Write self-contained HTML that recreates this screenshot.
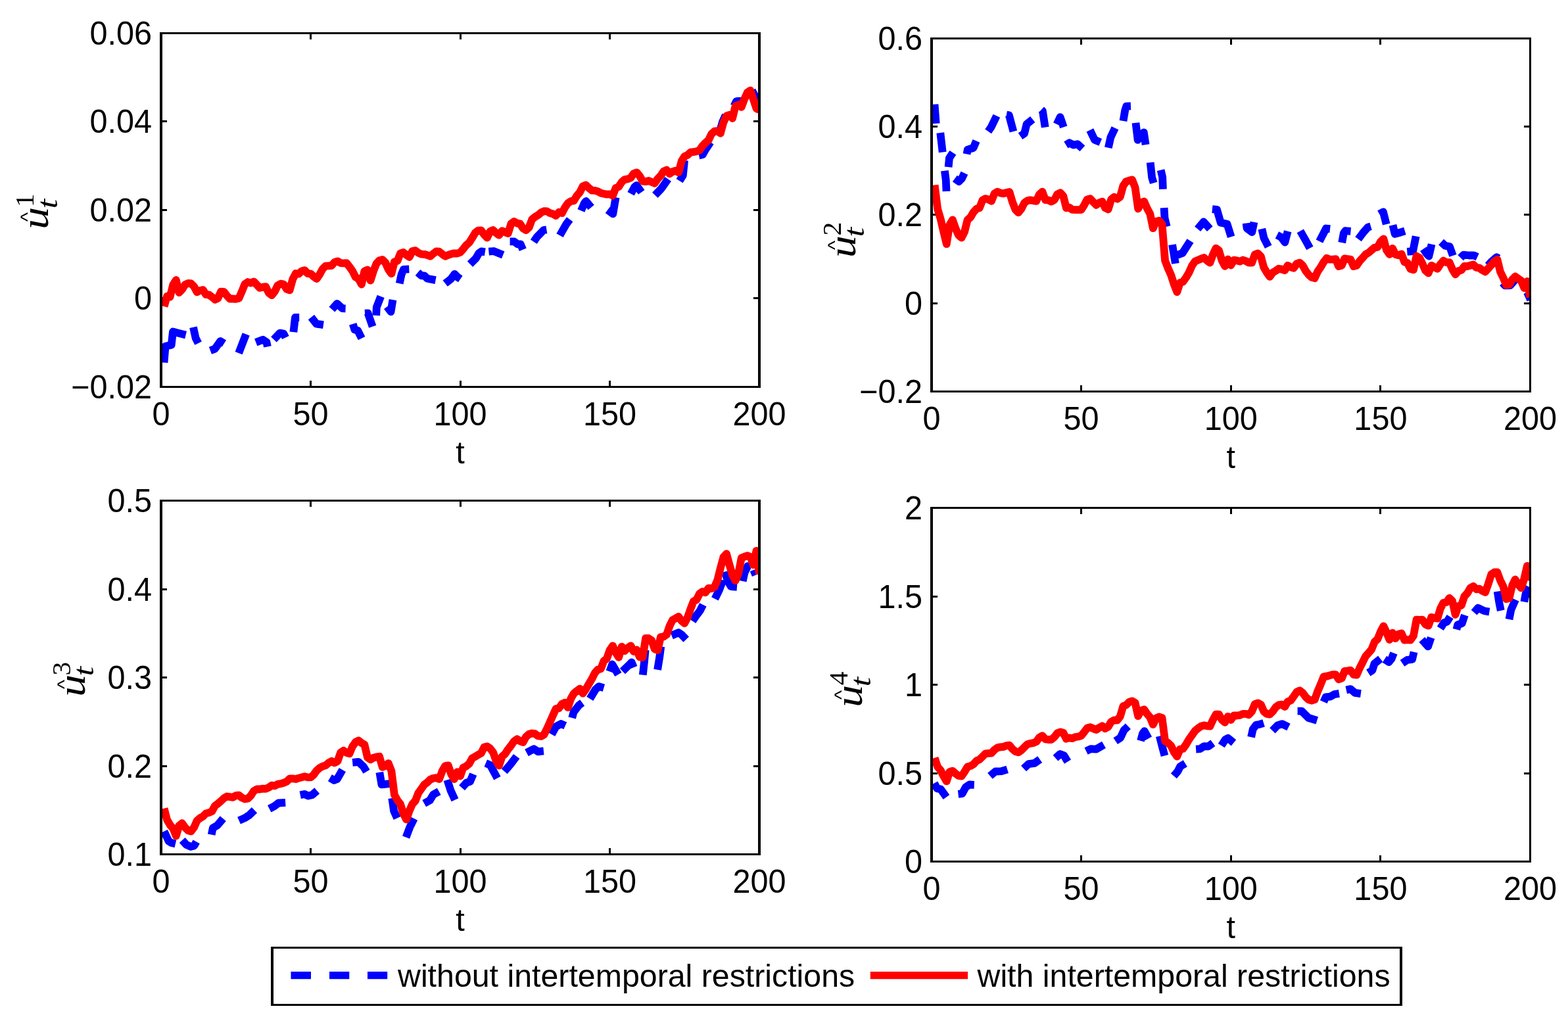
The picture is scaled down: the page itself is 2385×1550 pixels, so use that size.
<!DOCTYPE html>
<html lang="en"><head><meta charset="utf-8"><title>Estimated u-hat paths with and without intertemporal restrictions</title>
<style>
html,body{margin:0;padding:0;background:#fff;}
body{width:2385px;height:1550px;overflow:hidden;}
svg{display:block;}
.ax{fill:none;stroke:#000;stroke-width:3.4;stroke-linejoin:miter;shape-rendering:crispEdges;}
.tk{stroke:#000;stroke-width:3.0;fill:none;shape-rendering:crispEdges;}
.lb{font-family:"Liberation Sans",sans-serif;font-size:48.6px;fill:#000;}
.lg{font-family:"Liberation Sans",sans-serif;font-size:48.3px;fill:#000;}
.mi{font-family:"Liberation Serif",serif;font-style:italic;fill:#000;}
.mr{font-family:"Liberation Serif",serif;fill:#000;}
.mh{font-family:"Liberation Sans",sans-serif;fill:#000;}
.r{fill:none;stroke:#f00;stroke-width:11.8;stroke-linejoin:round;stroke-linecap:butt;}
.b{fill:none;stroke:#00f;stroke-width:11.8;stroke-linejoin:round;stroke-linecap:butt;}
</style></head><body>
<svg width="2385" height="1550" viewBox="0 0 2385 1550" role="img" aria-label="Four line charts comparing estimates with and without intertemporal restrictions">
<rect x="0" y="0" width="2385" height="1550" fill="#fff"/>
<g id="axes1">
<path class="tk" d="M472.5 588.3V579M472.5 50.5V59.8M700 588.3V579M700 50.5V59.8M927.5 588.3V579M927.5 50.5V59.8M245 184.9H254.3M1155 184.9H1145.7M245 319.4H254.3M1155 319.4H1145.7M245 453.8H254.3M1155 453.8H1145.7"/>
<clipPath id="clip1"><rect x="245" y="50.5" width="910" height="537.8"/></clipPath>
<g clip-path="url(#clip1)">
<polyline class="b" points="249.5,551.6 251.6,526.7 260.7,524.7 263,504.5 271,506.6 282.6,509.4"/>
<polyline class="b" points="294,497.8 297.6,514.3 301.6,522.1"/>
<polyline class="b" points="319.9,533.2 326.9,530.6 335.2,519 340.9,522.6"/>
<polyline class="b" points="363.1,537.1 374.2,508.3"/>
<polyline class="b" points="389.2,520.8 399.8,516.7 405.5,520.5 406.9,527.4"/>
<polyline class="b" points="416.4,516.4 425.7,506.6 431.4,507.6 434.3,513.5"/>
<polyline class="b" points="446.4,505.1 449,482.8 455.2,482.8"/>
<polyline class="b" points="473.4,482.5 481.3,492.6 491.9,494.1"/>
<polyline class="b" points="504.9,470.6 512.8,461.8 520.8,469.1 525.6,469.3"/>
<polyline class="b" points="536.7,492.8 539.5,501.6 544.1,502.7 550.1,514.6"/>
<polyline class="b" points="555,476.7 559.6,476.4 566.7,496.7"/>
<polyline class="b" points="572.2,479.9 572.8,467.4 579.2,450.9"/>
<polyline class="b" points="588.7,466.5 594.5,474.2 597.5,456"/>
<polyline class="b" points="607.7,431.2 610.6,417.6 613.9,409.8 622.3,409.4"/>
<polyline class="b" points="635.5,414.6 641,419.3 645.6,419.3 650.1,423.8 662.6,426.1"/>
<polyline class="b" points="677.2,431.2 685.6,424.7 691.5,416.9 696,421.5 700.3,424.4"/>
<polyline class="b" points="714.9,401.7 723.8,393 728.3,385.3 732.2,382.4 737.8,383.3"/>
<polyline class="b" points="743.4,382.7 750.9,382 765.2,387.8"/>
<polyline class="b" points="775.6,367.4 782,367.4 787.2,371.3 791.7,371.3 795.3,379.7"/>
<polyline class="b" points="811.8,367.7 816.3,360.9 826.9,350 831.4,349.3"/>
<polyline class="b" points="851.5,358.1 860.9,341.6 866.7,333.8"/>
<polyline class="b" points="883.9,320.5 888.7,309.2 891.3,306 899.2,315.6"/>
<polyline class="b" points="924.3,319.3 932.3,325.4 936.6,300.2"/>
<polyline class="b" points="959.6,294.7 965,284.7 968.2,281.8 975.7,292.4"/>
<polyline class="b" points="996.3,296.9 1005.7,287.2 1016.1,272.4"/>
<polyline class="b" points="1033.6,275.2 1038.8,266.9 1040.6,249.3 1040.9,244.1"/>
<polyline class="b" points="1063.1,236.4 1068.8,235.3 1072.4,228.6 1080.7,216.2"/>
<polyline class="b" points="1094.7,200.7 1099.1,185.2 1103.7,175.3"/>
<polyline class="b" points="1116.4,161.4 1120,154.1 1124.7,153.6 1128.3,154.1 1129.3,149.5"/>
<polyline class="b" points="1143.8,137.6 1150,149 1155,155.7"/>
<polyline class="r" points="249.6,466.2 254.1,450.7 258.6,451.7 263.2,433.1 267.8,425.9 272.3,445 276.9,440.3 281.4,433.1 285.9,431 290.5,431.2 295.1,435.7 299.6,444.3 304.1,441.9 308.7,440.9 313.2,448.1 317.8,448.4 322.4,451.7 326.9,455.7 331.4,453.8 336,443.7 340.6,444 345.1,449.7 349.6,454.5 354.2,454.5 358.8,454.8 363.3,453.8 367.9,443.4 372.4,432.1 376.9,429 381.5,430.5 386.1,428.4 390.6,433.1 395.1,437.8 399.7,436.7 404.2,436.2 408.8,445.5 413.4,449.1 417.9,443.4 422.4,434.1 427,431.6 431.6,432.6 436.1,439.8 440.6,441.4 445.2,424.8 449.8,416 454.3,416.6 458.9,412.4 463.4,411.1 467.9,416 472.5,416.3 477.1,420.8 481.6,424.1 486.1,417.6 490.7,409.2 495.2,404.7 499.8,404.4 504.4,404 508.9,398.8 513.5,397.3 518,400.1 522.5,400.4 527.1,400.1 531.6,405.9 536.2,412.4 540.8,421.5 545.3,424.1 549.9,432.5 554.4,412.4 559,410.5 563.5,426.6 568,412.4 572.6,400.8 577.1,396.2 581.7,395 586.2,399.5 590.8,409.8 595.4,416.3 599.9,398.2 604.5,396.9 609,385.3 613.5,384 618.1,387.8 622.6,391.1 627.2,382 631.8,381.1 636.3,384.6 640.9,386.6 645.4,386.8 650,388.1 654.5,389.8 659,385.9 663.6,382.4 668.1,382.7 672.7,386.6 677.2,389.8 681.8,387.8 686.4,386.3 690.9,385.3 695.5,385.5 700,384 704.5,378.8 709.1,373 713.6,369.1 718.2,362 722.8,354.2 727.3,350.6 731.9,350.3 736.4,356.8 741,361.6 745.5,351.9 750,350 754.6,354.5 759.1,357.7 763.7,351.2 768.2,353.2 772.8,355.1 777.4,340.3 781.9,337 786.5,339.6 791,340.3 795.5,347.4 800.1,350 804.6,346.1 809.2,333.8 813.8,329.9 818.3,327.3 822.9,323.4 827.4,321.2 832,321.5 836.5,324.1 841,325.4 845.6,328 850.1,322.8 854.7,324.1 859.2,315.7 863.8,309.2 868.4,306 872.9,305.3 877.5,297.6 882,292.4 886.5,283.4 891.1,281.4 895.6,285.9 900.2,289.6 904.8,289.8 909.3,291.1 913.9,293.7 918.4,294.7 923,295.6 927.5,295.3 932,297.6 936.6,285.9 941.1,284 945.7,276.9 950.2,273 954.8,272.4 959.4,270.4 963.9,264 968.5,262.4 973,267.8 977.5,275.6 982.1,276.2 986.6,275 991.2,276.9 995.8,278.8 1000.3,272.1 1004.9,267.4 1009.4,260.7 1014,258.6 1018.5,264.3 1023,261.2 1027.6,259.7 1032.2,262.2 1036.7,245.2 1041.2,237.9 1045.8,235.9 1050.3,231.7 1054.9,231.2 1059.5,230.2 1064,228.6 1068.5,221.9 1073.1,217.2 1077.7,213.1 1082.2,203.8 1086.8,199.7 1091.3,199.1 1095.8,202.8 1100.4,186.2 1105,176.4 1109.5,174.8 1114,180 1118.6,161.4 1123.2,159.3 1127.7,162.9 1132.2,151 1136.8,140.7 1141.3,137.6 1145.9,151 1150.5,165 1155,167.4"/>
</g>
<rect class="ax" x="245" y="50.5" width="910" height="537.8"/>
<text class="lb" text-anchor="end" transform="translate(231 68) scale(1 1.03)">0.06</text>
<text class="lb" text-anchor="end" transform="translate(231 202.4) scale(1 1.03)">0.04</text>
<text class="lb" text-anchor="end" transform="translate(231 336.9) scale(1 1.03)">0.02</text>
<text class="lb" text-anchor="end" transform="translate(231 471.3) scale(1 1.03)">0</text>
<text class="lb" text-anchor="end" transform="translate(231 605.8) scale(1 1.03)">−0.02</text>
<text class="lb" text-anchor="middle" transform="translate(245 646.9) scale(1 1.03)">0</text>
<text class="lb" text-anchor="middle" transform="translate(472.5 646.9) scale(1 1.03)">50</text>
<text class="lb" text-anchor="middle" transform="translate(700 646.9) scale(1 1.03)">100</text>
<text class="lb" text-anchor="middle" transform="translate(927.5 646.9) scale(1 1.03)">150</text>
<text class="lb" text-anchor="middle" transform="translate(1155 646.9) scale(1 1.03)">200</text>
<text class="lb" text-anchor="middle" x="700" y="704.8">t</text>
<g transform="translate(73.2 346) rotate(-90)">
<text class="mi" font-size="62" transform="translate(-3.1 0) scale(1.1 0.95)">u</text>
<text class="mh" font-size="30" transform="translate(8.8 -21.3) scale(1.03 1.0)">^</text>
<text class="mr" font-size="41.5" transform="translate(30.7 -22.2) scale(1.0 0.985)">1</text>
<text class="mi" font-size="42" transform="translate(28.5 13.3) scale(1.25 1.05)">t</text>
</g>
</g>
<g id="axes2">
<path class="tk" d="M1644.6 595.5V586.2M1644.6 58.2V67.5M1872.2 595.5V586.2M1872.2 58.2V67.5M2099.9 595.5V586.2M2099.9 58.2V67.5M1417 192.5H1426.3M2327.5 192.5H2318.2M1417 326.9H1426.3M2327.5 326.9H2318.2M1417 461.2H1426.3M2327.5 461.2H2318.2"/>
<clipPath id="clip2"><rect x="1417" y="58.2" width="910.5" height="537.3"/></clipPath>
<g clip-path="url(#clip2)">
<polyline class="b" points="1421.5,158.7 1423.7,187.9"/>
<polyline class="b" points="1430.3,202 1433.7,231.5"/>
<polyline class="b" points="1436.9,259.7 1438.7,273.5 1439.5,291"/>
<polyline class="b" points="1442.6,254.1 1443.9,240.6 1449.4,232.2"/>
<polyline class="b" points="1452.4,271.6 1458.5,276.1 1463,271.6 1466.9,263.2"/>
<polyline class="b" points="1470.5,234.4 1471.8,227.6 1480.5,225 1485,214.4"/>
<polyline class="b" points="1503.1,199.8 1507.6,193.4 1515.9,176.2"/>
<polyline class="b" points="1530.9,174.6 1534.8,175.3 1541.4,200.1"/>
<polyline class="b" points="1552,207.2 1558.1,203.1 1561.6,188.8 1570.7,181.5"/>
<polyline class="b" points="1583.9,166.9 1585.9,168.8 1589.7,193.6"/>
<polyline class="b" points="1607.5,189.1 1612.6,178.1 1617.8,193.4"/>
<polyline class="b" points="1621.4,220.5 1626.6,217.3 1632.7,220.5 1638.9,219.2 1646.4,225.9"/>
<polyline class="b" points="1657.9,197.9 1665,212.8 1673.8,216.4"/>
<polyline class="b" points="1685.8,224.7 1689.3,209.1 1696,194.7"/>
<polyline class="b" points="1708.5,184.1 1711.3,167.5 1713.3,161.7 1720,161.4"/>
<polyline class="b" points="1727.5,186.9 1730.6,212.8 1734.6,206.3 1739.8,201.4 1742.6,220.1"/>
<polyline class="b" points="1749.7,247.2 1752.1,269.7 1754.7,278.4"/>
<polyline class="b" points="1765.6,258.7 1768.2,269.7 1768.9,287.8"/>
<polyline class="b" points="1770.6,316.2 1771.5,331.7 1774.7,344.7"/>
<polyline class="b" points="1783.1,372.1 1787.9,400.9"/>
<polyline class="b" points="1790.6,388 1798.6,385 1810.5,366.4"/>
<polyline class="b" points="1821.6,348.3 1830.7,337.5 1840.3,348.1"/>
<polyline class="b" points="1843.9,318.1 1851,318.8 1856.8,338.8 1866.5,340.8 1872.6,360.2"/>
<polyline class="b" points="1895.6,339.5 1896.6,347.2 1904.3,353.1 1907.5,337.9"/>
<polyline class="b" points="1919.3,348.1 1922.5,362.1 1929.2,375.4"/>
<polyline class="b" points="1942.4,357.6 1948.6,360.8 1954.4,368.6 1958.7,351.8"/>
<polyline class="b" points="1977.8,351.4 1985.9,365.6 1992.4,377.5"/>
<polyline class="b" points="2006.9,367.1 2017,347.5 2023.1,348.2"/>
<polyline class="b" points="2041.2,369.1 2043.8,354.7 2046.3,351 2054.5,351.8"/>
<polyline class="b" points="2066,363.7 2072.8,354.7 2080.6,345.6 2085.1,344.3"/>
<polyline class="b" points="2098.1,325.6 2103.9,322.3 2108.7,341.1"/>
<polyline class="b" points="2118.5,342.4 2121.7,355.9 2128.4,354 2136.9,351.4"/>
<polyline class="b" points="2140.3,382.8 2149.1,382.1 2153.7,359.4"/>
<polyline class="b" points="2165,378.6 2169.8,385.7 2173.4,389.6 2177.6,371.5"/>
<polyline class="b" points="2192.1,368.2 2198.3,373.8 2205,375.1 2209.9,388.9"/>
<polyline class="b" points="2221.6,392.2 2226.1,387.6 2234.5,388.5 2241.6,388.3 2247.2,390.9"/>
<polyline class="b" points="2263.4,403.8 2268.6,397.9 2276.4,391.2 2279.2,393"/>
<polyline class="b" points="2285.4,430.3 2289.3,434.4 2297.1,434.1 2306.1,423.8"/>
<polyline class="b" points="2322.9,444.5 2328.1,456.1"/>
<polyline class="r" points="1421.6,281.4 1426.1,317.6 1430.7,333.1 1435.2,352.5 1439.8,371.2 1444.3,342.2 1448.9,334.4 1453.4,347.3 1458,357.7 1462.5,361.6 1467.1,352.5 1471.6,334.4 1476.2,330.5 1480.7,322.8 1485.3,317.6 1489.8,316.3 1494.4,304.7 1498.9,302.1 1503.5,303.4 1508,305.9 1512.6,294.3 1517.2,291.7 1521.7,293.7 1526.3,294.3 1530.8,293 1535.4,292 1539.9,307.2 1544.5,318.9 1549,323.4 1553.6,317.6 1558.1,308.5 1562.7,305.3 1567.2,304.4 1571.8,305.3 1576.3,305.9 1580.9,295.6 1585.4,291.7 1590,304 1594.5,304.4 1599.1,306.6 1603.7,304 1608.2,295.6 1612.8,293.3 1617.3,298.2 1621.9,316.3 1626.4,315.6 1631,318.9 1635.5,319.1 1640.1,319.1 1644.6,319.1 1649.2,311.8 1653.7,303.4 1658.3,302.3 1662.8,307.2 1667.4,311.8 1671.9,308.5 1676.5,306.6 1681,316.3 1685.6,318.5 1690.2,303.3 1694.7,299.7 1699.3,302.6 1703.8,299.4 1708.4,282.6 1712.9,276.1 1717.5,274.8 1722,273.5 1726.6,285.2 1731.1,317.5 1735.7,308.4 1740.2,306.5 1744.8,316.9 1749.3,325.3 1753.9,347.2 1758.4,336.9 1763,335.6 1767.5,340.8 1772.1,396.4 1776.6,408 1781.2,418.4 1785.8,432.6 1790.3,444.2 1794.9,430 1799.4,428.7 1804,422.2 1808.5,414.5 1813.1,404.1 1817.6,397.7 1822.2,395.7 1826.7,393.8 1831.3,391.9 1835.8,396.4 1840.4,399.6 1844.9,387.3 1849.5,377.6 1854,380.9 1858.6,396.4 1863.1,404.8 1867.7,394.4 1872.2,403.5 1876.8,395.7 1881.4,396.4 1885.9,397.7 1890.5,395.5 1895,397 1899.6,399.6 1904.1,399.6 1908.7,387.3 1913.2,385.4 1917.8,389.9 1922.3,406.7 1926.9,414.5 1931.4,420.9 1936,414.5 1940.5,411.9 1945.1,408.7 1949.6,409.6 1954.2,411.3 1958.7,403.8 1963.3,406.4 1967.9,407.7 1972.4,401.2 1977,399.7 1981.5,403.8 1986.1,412.2 1990.6,418 1995.2,421.9 1999.7,423.2 2004.3,412.8 2008.8,406.4 2013.4,398.6 2017.9,392.8 2022.5,394.7 2027,394.7 2031.6,394.1 2036.1,405.1 2040.7,403.8 2045.2,393.4 2049.8,394.1 2054.3,394.7 2058.9,405.1 2063.5,403.8 2068,397.3 2072.6,392.2 2077.1,387 2081.7,384.4 2086.2,380.5 2090.8,376.6 2095.3,376 2099.9,367.6 2104.4,363.4 2109,380.5 2113.5,387 2118.1,377.9 2122.6,387 2127.2,388.3 2131.7,386.3 2136.3,398.6 2140.8,399.9 2145.4,409 2150,410.3 2154.5,389.6 2159.1,392.2 2163.6,401.2 2168.2,411.6 2172.7,415.4 2177.3,403.8 2181.8,406.4 2186.4,408.9 2190.9,401.8 2195.5,396.6 2200,399.2 2204.6,399.2 2209.1,409.6 2213.7,417.3 2218.2,412.2 2222.8,410.9 2227.3,405 2231.9,405 2236.4,403.8 2241,402.5 2245.6,407 2250.1,407.6 2254.7,410.9 2259.2,413.4 2263.8,408.3 2268.3,403.1 2272.9,397.9 2277.4,394.7 2282,413.4 2286.5,422.5 2291.1,433.5 2295.6,432.8 2300.2,425.1 2304.7,420.6 2309.3,423.8 2313.8,427 2318.4,438 2322.9,427.9 2327.5,452.2"/>
</g>
<rect class="ax" x="1417" y="58.2" width="910.5" height="537.3"/>
<text class="lb" text-anchor="end" transform="translate(1403 75.7) scale(1 1.03)">0.6</text>
<text class="lb" text-anchor="end" transform="translate(1403 210) scale(1 1.03)">0.4</text>
<text class="lb" text-anchor="end" transform="translate(1403 344.4) scale(1 1.03)">0.2</text>
<text class="lb" text-anchor="end" transform="translate(1403 478.7) scale(1 1.03)">0</text>
<text class="lb" text-anchor="end" transform="translate(1403 613) scale(1 1.03)">−0.2</text>
<text class="lb" text-anchor="middle" transform="translate(1417 654.1) scale(1 1.03)">0</text>
<text class="lb" text-anchor="middle" transform="translate(1644.6 654.1) scale(1 1.03)">50</text>
<text class="lb" text-anchor="middle" transform="translate(1872.2 654.1) scale(1 1.03)">100</text>
<text class="lb" text-anchor="middle" transform="translate(2099.9 654.1) scale(1 1.03)">150</text>
<text class="lb" text-anchor="middle" transform="translate(2327.5 654.1) scale(1 1.03)">200</text>
<text class="lb" text-anchor="middle" x="1872.2" y="712">t</text>
<g transform="translate(1301.1 389.1) rotate(-90)">
<text class="mi" font-size="62" transform="translate(-3.1 0) scale(1.1 0.95)">u</text>
<text class="mh" font-size="30" transform="translate(8.8 -21.3) scale(1.03 1.0)">^</text>
<text class="mr" font-size="41.5" transform="translate(30.7 -22.2) scale(1.0 0.985)">2</text>
<text class="mi" font-size="42" transform="translate(28.5 13.3) scale(1.25 1.05)">t</text>
</g>
</g>
<g id="axes3">
<path class="tk" d="M472.5 1299.4V1290.1M472.5 761.8V771.1M700 1299.4V1290.1M700 761.8V771.1M927.5 1299.4V1290.1M927.5 761.8V771.1M245 896.2H254.3M1155 896.2H1145.7M245 1030.6H254.3M1155 1030.6H1145.7M245 1165H254.3M1155 1165H1145.7"/>
<clipPath id="clip3"><rect x="245" y="761.8" width="910" height="537.6"/></clipPath>
<g clip-path="url(#clip3)">
<polyline class="b" points="249.6,1264.5 256.6,1279.4 260.7,1282 266.9,1283.5"/>
<polyline class="b" points="277.2,1278 283.3,1284.8 290.2,1287.8 295.3,1286.5 298.7,1280.4"/>
<polyline class="b" points="321.7,1269.6 323.8,1259.4 330.5,1255.5 339.3,1245.1"/>
<polyline class="b" points="363.5,1248.1 373.2,1243.8 379,1240 387,1232.2"/>
<polyline class="b" points="409.7,1230.3 416.9,1226.6 423.6,1221.5 434.2,1220.8"/>
<polyline class="b" points="456.7,1209.3 463.1,1208 468.9,1210.6 474.7,1209.3 482.2,1202.7"/>
<polyline class="b" points="501.9,1183.1 508.3,1186.9 512.8,1185 520.9,1171"/>
<polyline class="b" points="536.2,1159.8 545.2,1158.9 553,1166.3 557.5,1173.8"/>
<polyline class="b" points="577.3,1174.7 580.5,1193.4 592.4,1192.2"/>
<polyline class="b" points="596.3,1214.1 599.1,1233.5 604.1,1244.5"/>
<polyline class="b" points="617.6,1273.6 623.4,1258.1 629.9,1245.2"/>
<polyline class="b" points="645.2,1222.2 653.8,1217.4 659,1208.7 667.7,1203.8"/>
<polyline class="b" points="680.3,1186.3 685.5,1202.5 692,1216.7"/>
<polyline class="b" points="702.6,1198.4 709.4,1190.6 715,1188.9 719.8,1177.5"/>
<polyline class="b" points="738.8,1160.9 745.6,1163.7 756.4,1183.8"/>
<polyline class="b" points="767.2,1173.4 776.7,1162.4 785.7,1150.5"/>
<polyline class="b" points="801,1145 812,1139.1 818.4,1143.3 826.9,1142.4"/>
<polyline class="b" points="839.1,1117.1 845.6,1105.2 853.4,1101 859.8,1103.9"/>
<polyline class="b" points="870.2,1091.9 872.5,1083.2 880.5,1072.8 885.7,1069"/>
<polyline class="b" points="897.3,1062.9 905.7,1048.9 910.9,1044.1 918.4,1046.3"/>
<polyline class="b" points="927.3,1021.5 931.2,1010.5 940.4,1026"/>
<polyline class="b" points="946.9,1020.9 956.8,1011.4 960.7,1007.5 963.9,1015.3"/>
<polyline class="b" points="977.8,1026.6 980.1,1005.6 981.6,988.8"/>
<polyline class="b" points="1000.1,1018.8 1003.1,1000.4 1005.3,983.6"/>
<polyline class="b" points="1021.5,966.8 1032.1,962.3 1036.3,964.9 1043.7,972.6"/>
<polyline class="b" points="1053.4,944.7 1058.3,937.4 1064.7,929 1069.3,919.9"/>
<polyline class="b" points="1087.4,910.9 1093.8,897.9 1099.7,882.4"/>
<polyline class="b" points="1102.9,869.5 1106.8,883.7 1111.9,892.1 1121,892.8"/>
<polyline class="b" points="1129.7,884.1 1132.6,870.8 1137.4,861.1 1141,861.7"/>
<polyline class="b" points="1146.2,866.9 1149.4,874.7"/>
<polyline class="r" points="249.6,1229.6 254.1,1247.1 258.6,1254.8 263.2,1260 267.8,1271.6 272.3,1256.1 276.9,1252.2 281.4,1258.7 285.9,1263.2 290.5,1264.5 295.1,1258.7 299.6,1248.4 304.1,1244.5 308.7,1241.9 313.2,1237.4 317.8,1236.1 322.4,1234.1 326.9,1225.7 331.4,1222.5 336,1218.6 340.6,1214.1 345.1,1211.5 349.6,1212.2 354.2,1212.8 358.8,1210.2 363.3,1209.6 367.9,1213.4 372.4,1215.4 376.9,1214.7 381.5,1210.2 386.1,1203.1 390.6,1200.5 395.1,1200.5 399.7,1199.6 404.2,1199.9 408.8,1197.9 413.4,1194.7 417.9,1195.3 422.4,1192.8 427,1192.1 431.6,1190.8 436.1,1188.9 440.6,1184.4 445.2,1184.4 449.8,1185 454.3,1183.7 458.9,1182.4 463.4,1181.1 467.9,1182.4 472.5,1182.4 477.1,1178.5 481.6,1172.1 486.1,1168.2 490.7,1165.6 495.2,1164.3 499.8,1160.4 504.4,1157.8 508.9,1160.4 513.5,1157.8 518,1144.9 522.5,1141.7 527.1,1145 531.6,1146.2 536.2,1135.3 540.8,1128.8 545.3,1126.5 549.9,1130.1 554.4,1132.7 559,1152.1 563.5,1155.3 568,1152.7 572.6,1151.4 577.1,1150.8 581.7,1166.9 586.2,1165 590.8,1161.1 595.4,1172.8 599.9,1209 604.5,1217.4 609,1223.2 613.5,1237.4 618.1,1246.5 622.6,1233.5 627.2,1223.2 631.8,1218 636.3,1206.4 640.9,1199.9 645.4,1193.4 650,1190.2 654.5,1185.7 659,1183.8 663.6,1183.1 668.1,1185 672.7,1172.8 677.2,1165 681.8,1164.4 686.4,1177.9 690.9,1185 695.5,1174.1 700,1180.5 704.5,1167.6 709.1,1165.6 713.6,1161.8 718.2,1153.4 722.8,1150.8 727.3,1148.2 731.9,1145.6 736.4,1136.6 741,1135.5 745.5,1138.5 750,1144.3 754.6,1157.2 759.1,1164.4 763.7,1150.8 768.2,1146.9 772.8,1139.8 777.4,1134 781.9,1127.5 786.5,1124.3 791,1127.2 795.5,1129.1 800.1,1120.7 804.6,1116.8 809.2,1115.5 813.8,1116.2 818.3,1119.4 822.9,1120 827.4,1117.5 832,1108.4 836.5,1098.4 841,1088.1 845.6,1078 850.1,1077.4 854.7,1070.9 859.2,1068.7 863.8,1076.1 868.4,1062.5 872.9,1054.7 877.5,1050.9 882,1047.6 886.5,1054.7 891.1,1048.3 895.6,1040.5 900.2,1032.8 904.8,1023.7 909.3,1018.5 913.9,1017.2 918.4,1005.6 923,1001.7 927.5,988.8 932,982.3 936.6,992.7 941.1,999.8 945.7,983.6 950.2,990.1 954.8,985.6 959.4,982.3 963.9,991 968.5,988.4 973,999.4 977.5,1000.1 982.1,971 986.6,971 991.2,974.2 995.8,987.2 1000.3,989.1 1004.9,969.1 1009.4,968.4 1014,965.2 1018.5,952.2 1023,943.2 1027.6,940.6 1032.2,938 1036.7,944.5 1041.2,948.1 1045.8,939.3 1050.3,926.4 1054.9,914.7 1059.5,912.2 1064,903.1 1068.5,899.9 1073.1,901.2 1077.7,894.7 1082.2,895.3 1086.8,892.8 1091.3,882.4 1095.8,864.3 1100.4,847.5 1105,842.3 1109.5,859.1 1114,874.7 1118.6,883.1 1123.2,872.1 1127.7,848.8 1132.2,846.9 1136.8,845.2 1141.3,846.9 1145.9,859.1 1150.5,837.8 1155,873.4"/>
</g>
<rect class="ax" x="245" y="761.8" width="910" height="537.6"/>
<text class="lb" text-anchor="end" transform="translate(231 779.3) scale(1 1.03)">0.5</text>
<text class="lb" text-anchor="end" transform="translate(231 913.7) scale(1 1.03)">0.4</text>
<text class="lb" text-anchor="end" transform="translate(231 1048.1) scale(1 1.03)">0.3</text>
<text class="lb" text-anchor="end" transform="translate(231 1182.5) scale(1 1.03)">0.2</text>
<text class="lb" text-anchor="end" transform="translate(231 1316.9) scale(1 1.03)">0.1</text>
<text class="lb" text-anchor="middle" transform="translate(245 1358) scale(1 1.03)">0</text>
<text class="lb" text-anchor="middle" transform="translate(472.5 1358) scale(1 1.03)">50</text>
<text class="lb" text-anchor="middle" transform="translate(700 1358) scale(1 1.03)">100</text>
<text class="lb" text-anchor="middle" transform="translate(927.5 1358) scale(1 1.03)">150</text>
<text class="lb" text-anchor="middle" transform="translate(1155 1358) scale(1 1.03)">200</text>
<text class="lb" text-anchor="middle" x="700" y="1415.9">t</text>
<g transform="translate(129 1057) rotate(-90)">
<text class="mi" font-size="62" transform="translate(-3.1 0) scale(1.1 0.95)">u</text>
<text class="mh" font-size="30" transform="translate(8.8 -21.3) scale(1.03 1.0)">^</text>
<text class="mr" font-size="41.5" transform="translate(29.5 -22.2) scale(1.0 0.985)">3</text>
<text class="mi" font-size="42" transform="translate(28.5 13.3) scale(1.25 1.05)">t</text>
</g>
</g>
<g id="axes4">
<path class="tk" d="M1644.6 1310.5V1301.2M1644.6 772.5V781.8M1872.2 1310.5V1301.2M1872.2 772.5V781.8M2099.9 1310.5V1301.2M2099.9 772.5V781.8M1417 907H1426.3M2327.5 907H2318.2M1417 1041.5H1426.3M2327.5 1041.5H2318.2M1417 1176H1426.3M2327.5 1176H2318.2"/>
<clipPath id="clip4"><rect x="1417" y="772.5" width="910.5" height="538"/></clipPath>
<g clip-path="url(#clip4)">
<polyline class="b" points="1421.1,1191.3 1425.3,1199.4 1430.7,1200.3 1439.5,1212.5"/>
<polyline class="b" points="1457.5,1207.8 1463.7,1207.1 1468.8,1197.4 1474.7,1193.5 1481.8,1193.8"/>
<polyline class="b" points="1505.9,1180.3 1514.1,1173.5 1523.1,1173.2 1532.2,1170.3"/>
<polyline class="b" points="1557,1169 1564.5,1162.2 1573.6,1160.9 1581.7,1155.1"/>
<polyline class="b" points="1605.5,1153.1 1612.4,1147 1618.4,1149.3 1624,1158.6"/>
<polyline class="b" points="1652.1,1142.5 1658.9,1139.2 1667.3,1139.6 1679,1132.8"/>
<polyline class="b" points="1696.7,1127.1 1704.2,1122.2 1709.7,1110.5 1715.9,1104.7"/>
<polyline class="b" points="1735,1126.8 1738.1,1115.7 1740.7,1112.1 1746.9,1123.4"/>
<polyline class="b" points="1763.7,1119.6 1767.3,1133.8 1771.5,1149.6"/>
<polyline class="b" points="1785.4,1180.3 1791.5,1173.2 1795,1166.1 1802.8,1161.3"/>
<polyline class="b" points="1819.1,1139.6 1825.1,1139.2 1831.6,1135.1 1838.1,1135.3 1844.9,1130.3"/>
<polyline class="b" points="1857.8,1134.1 1863.9,1124.7 1867.8,1122.8 1876.5,1129.9"/>
<polyline class="b" points="1903.1,1121.2 1905.7,1109.2 1910.5,1102.8 1916.3,1101.7 1922.1,1099.9"/>
<polyline class="b" points="1935.4,1111.3 1943.2,1103.4 1950.2,1101.1 1960,1106"/>
<polyline class="b" points="1973.6,1081.7 1980,1081.7 1990.4,1092 2003.3,1095.9"/>
<polyline class="b" points="2013.3,1067.7 2016.6,1060.3 2023.4,1059.7 2029.8,1056.1 2036.9,1054.9"/>
<polyline class="b" points="2047.7,1049.6 2054.4,1048.1 2060.9,1053.9 2069.9,1055.2"/>
<polyline class="b" points="2081.3,1023.5 2087.4,1019.6 2090.6,1009.3 2099.7,1002.2"/>
<polyline class="b" points="2105.9,1002.8 2112.6,1007.1 2116.5,1002.2 2120,993.4"/>
<polyline class="b" points="2133,1008.9 2140.4,1003.8 2148.1,1002.8 2150.6,991.8"/>
<polyline class="b" points="2162.8,972.8 2172.1,983.4 2176.7,969.8"/>
<polyline class="b" points="2190.8,955.9 2196.4,947.2 2200.8,945.9 2205.7,938.1"/>
<polyline class="b" points="2215.4,957.5 2217.3,950.4 2223.8,948.1 2227.9,935.6"/>
<polyline class="b" points="2242.1,931.6 2248.2,924.8 2257.6,929.3 2265.4,930.6"/>
<polyline class="b" points="2277.7,899.6 2280.3,916.4 2282.8,928.7"/>
<polyline class="b" points="2295.5,942.2 2298.4,927.4 2305.1,912.2"/>
<polyline class="b" points="2318.4,915.5 2320.6,903.4 2326.2,893.1"/>
<polyline class="r" points="1421.6,1152.8 1426.1,1166.4 1430.7,1171.6 1435.2,1180.6 1439.8,1188.4 1444.3,1174.1 1448.9,1172.6 1453.4,1176.7 1458,1180 1462.5,1180.6 1467.1,1174.1 1471.6,1166.4 1476.2,1165.1 1480.7,1162.5 1485.3,1157.3 1489.8,1155.4 1494.4,1150.9 1498.9,1146.3 1503.5,1145.9 1508,1145.7 1512.6,1140.5 1517.2,1137.3 1521.7,1136.4 1526.3,1136 1530.8,1134.1 1535.4,1133.7 1539.9,1139.2 1544.5,1143.1 1549,1144.4 1553.6,1141.2 1558.1,1136.6 1562.7,1132.1 1567.2,1130.8 1571.8,1130.2 1576.3,1128.2 1580.9,1121.8 1585.4,1119.2 1590,1124.4 1594.5,1125 1599.1,1125 1603.7,1121.1 1608.2,1115.3 1612.8,1113.4 1617.3,1114.7 1621.9,1123.7 1626.4,1122.4 1631,1123.1 1635.5,1121.1 1640.1,1120.5 1644.6,1119.2 1649.2,1113.4 1653.7,1107.5 1658.3,1106.2 1662.8,1108.2 1667.4,1110.1 1671.9,1106.9 1676.5,1104.3 1681,1108.2 1685.6,1105.6 1690.2,1097.8 1694.7,1095.3 1699.3,1095.6 1703.8,1089.8 1708.4,1074.3 1712.9,1072.4 1717.5,1067.8 1722,1066.3 1726.6,1069.1 1731.1,1089.2 1735.7,1080.8 1740.2,1079.2 1744.8,1085.9 1749.3,1091.1 1753.9,1102.1 1758.4,1092.4 1763,1090.5 1767.5,1091.8 1772.1,1127.3 1776.6,1129.9 1781.2,1134.4 1785.8,1144.1 1790.3,1150.6 1794.9,1139.6 1799.4,1139 1804,1132.5 1808.5,1124.7 1813.1,1118.3 1817.6,1111.8 1822.2,1107.9 1826.7,1104.7 1831.3,1103.4 1835.8,1104.3 1840.4,1104.7 1844.9,1095 1849.5,1086.6 1854,1086.6 1858.6,1095 1863.1,1098.9 1867.7,1089.8 1872.2,1095 1876.8,1088.5 1881.4,1088.5 1885.9,1087.9 1890.5,1085.9 1895,1085.9 1899.6,1087.2 1904.1,1082.1 1908.7,1071.1 1913.2,1069.4 1917.8,1071.7 1922.3,1082.1 1926.9,1085.9 1931.4,1086.6 1936,1082.1 1940.5,1075.6 1945.1,1072.4 1949.6,1071.7 1954.2,1075 1958.7,1067.2 1963.3,1065.5 1967.9,1059.1 1972.4,1052.6 1977,1050.4 1981.5,1053.9 1986.1,1060.3 1990.6,1064.2 1995.2,1065.5 1999.7,1064.2 2004.3,1051.3 2008.8,1040.9 2013.4,1029.3 2017.9,1028.7 2022.5,1027.4 2027,1026.1 2031.6,1026.1 2036.1,1033.2 2040.7,1031.9 2045.2,1020.9 2049.8,1020.3 2054.3,1019.6 2058.9,1026.1 2063.5,1026.7 2068,1016.4 2072.6,1007.3 2077.1,998.3 2081.7,993.1 2086.2,987.9 2090.8,976.3 2095.3,972.4 2099.9,960.8 2104.4,952.4 2109,962.1 2113.5,973.1 2118.1,962.7 2122.6,971.1 2127.2,964.7 2131.7,963.4 2136.3,973.7 2140.8,973.1 2145.4,973.7 2150,967.2 2154.5,942.7 2159.1,942.9 2163.6,942.7 2168.2,949.8 2172.7,951.7 2177.3,938.8 2181.8,940.1 2186.4,940.7 2190.9,925.8 2195.5,916.8 2200,916.1 2204.6,909.7 2209.1,914.2 2213.7,934.9 2218.2,921.9 2222.8,920.9 2227.3,907.3 2231.9,902.2 2236.4,894.4 2241,891.8 2245.6,896.3 2250.1,895.7 2254.7,898.9 2259.2,900.9 2263.8,887.9 2268.3,873.7 2272.9,870.5 2277.4,870.5 2282,882.8 2286.5,891.8 2291.1,911.2 2295.6,909.9 2300.2,890.5 2304.7,881.5 2309.3,889.2 2313.8,894.4 2318.4,880.2 2322.9,860.8 2327.5,882.8"/>
</g>
<rect class="ax" x="1417" y="772.5" width="910.5" height="538"/>
<text class="lb" text-anchor="end" transform="translate(1403 790) scale(1 1.03)">2</text>
<text class="lb" text-anchor="end" transform="translate(1403 924.5) scale(1 1.03)">1.5</text>
<text class="lb" text-anchor="end" transform="translate(1403 1059) scale(1 1.03)">1</text>
<text class="lb" text-anchor="end" transform="translate(1403 1193.5) scale(1 1.03)">0.5</text>
<text class="lb" text-anchor="end" transform="translate(1403 1328) scale(1 1.03)">0</text>
<text class="lb" text-anchor="middle" transform="translate(1417 1369.1) scale(1 1.03)">0</text>
<text class="lb" text-anchor="middle" transform="translate(1644.6 1369.1) scale(1 1.03)">50</text>
<text class="lb" text-anchor="middle" transform="translate(1872.2 1369.1) scale(1 1.03)">100</text>
<text class="lb" text-anchor="middle" transform="translate(2099.9 1369.1) scale(1 1.03)">150</text>
<text class="lb" text-anchor="middle" transform="translate(2327.5 1369.1) scale(1 1.03)">200</text>
<text class="lb" text-anchor="middle" x="1872.2" y="1427">t</text>
<g transform="translate(1311 1073) rotate(-90)">
<text class="mi" font-size="62" transform="translate(-3.1 0) scale(1.1 0.95)">u</text>
<text class="mh" font-size="30" transform="translate(8.8 -21.3) scale(1.03 1.0)">^</text>
<text class="mr" font-size="41.5" transform="translate(30.7 -22.2) scale(1.0 0.985)">4</text>
<text class="mi" font-size="42" transform="translate(28.5 13.3) scale(1.25 1.05)">t</text>
</g>
</g>
<g id="legend">
<rect class="ax" x="414" y="1441.3" width="1717" height="87.1" fill="#fff"/>
<line class="b" style="stroke-width:11.3" x1="442.5" y1="1483.6" x2="473" y2="1483.6"/>
<line class="b" style="stroke-width:11.3" x1="501" y1="1483.6" x2="531.3" y2="1483.6"/>
<line class="b" style="stroke-width:11.3" x1="559" y1="1483.6" x2="589.2" y2="1483.6"/>
<line class="r" style="stroke-width:11.3" x1="1323.8" y1="1483.6" x2="1472.1" y2="1483.6"/>
<text class="lg" x="605" y="1500.8">without intertemporal restrictions</text>
<text class="lg" x="1486.5" y="1500.8">with intertemporal restrictions</text>
</g>
</svg>
</body></html>
